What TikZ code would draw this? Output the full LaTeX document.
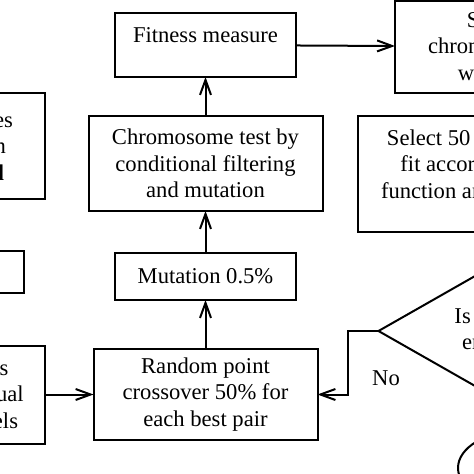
\documentclass[tikz,border=0pt]{standalone}
\usepackage{fontspec}
\setmainfont{Liberation Serif}
\usetikzlibrary{positioning, shapes.geometric, arrows.meta}
\tikzset{
    box/.style={rectangle, draw=black, line width=2pt, outer sep=0pt, inner sep=0pt, align=center, font=\fontsize{22.6pt}{26.5pt}\selectfont},
    test/.style={diamond, draw=black, line width=2pt, outer sep=0pt, inner sep=0pt, align=center, font=\fontsize{22.6pt}{26.5pt}\selectfont},
    term/.style={ellipse, draw=black, line width=2pt, outer sep=0pt, inner sep=0pt},
    lbl/.style={inner sep=0pt, font=\fontsize{22.6pt}{26.5pt}\selectfont},
    flow/.style={line width=2pt, -{Straight Barb[length=15pt, width=11pt, line width=2pt]}},
}

\begin{document}
\begin{tikzpicture}[x=1pt, y=1pt]
    \useasboundingbox (0,0) rectangle (474,-474);
    \clip (0,0) rectangle (474,-474);
    \node [box, minimum width=181pt, minimum height=64pt] (fitness) at (205.5,-45) {Fitness measure\\[-6pt]\mbox{}};
    \node [box, minimum width=234pt, minimum height=95pt] (chrom) [below=39pt of fitness] {Chromosome test by\\conditional filtering\\and mutation};
    \node [box, minimum width=181pt, minimum height=47pt] (mut) [below=42pt of chrom] {Mutation 0.5\%};
    \node [box, minimum width=224pt, minimum height=91pt] (cross) [below=49pt of mut] {Random point\\crossover 50\% for\\each best pair};
    \node [box, minimum width=191.6pt, minimum height=92pt] (store) [right=99pt of fitness, yshift=-1.5pt] {Store\\chromosomes\\with fit};
    \node [box, minimum width=224pt, minimum height=116pt] (select) [right=35pt of chrom.north east, anchor=north west] {Select 50 \% better\\fit according to\\function and record\\[-6pt]\mbox{}};
    \node [test, minimum width=243.6pt, minimum height=114pt] (best) [above right=63.5pt and 61pt of cross.east, anchor=west] {Is the best\\enough?};
    \node [term, minimum width=124pt, minimum height=74pt] (stop) at (520,-468) {};
    \node [box, minimum width=191pt, minimum height=98pt] (genes) [left=49pt of cross] {Binary genes\\of the individual\\and their labels};
    \node [box, minimum width=198pt, minimum height=106pt] (init) at (-54,-146) {Random genes\\in population\\\textbf{Basic model}};
    \node [box, minimum width=150pt, minimum height=42pt] (pick) at (-51,-272) {};
    \node [lbl] (no) at (386,-378) {No};
    \draw [flow] (chrom) -- (fitness);
    \draw [flow] (mut) -- (chrom);
    \draw [flow] (cross) -- (mut);
    \draw [flow] (fitness) -- (store);
    \draw [flow] (genes) -- (cross);
    \draw [flow] (best.west) -- ++(-31,0) |- (cross.east);
\end{tikzpicture}
\end{document}
